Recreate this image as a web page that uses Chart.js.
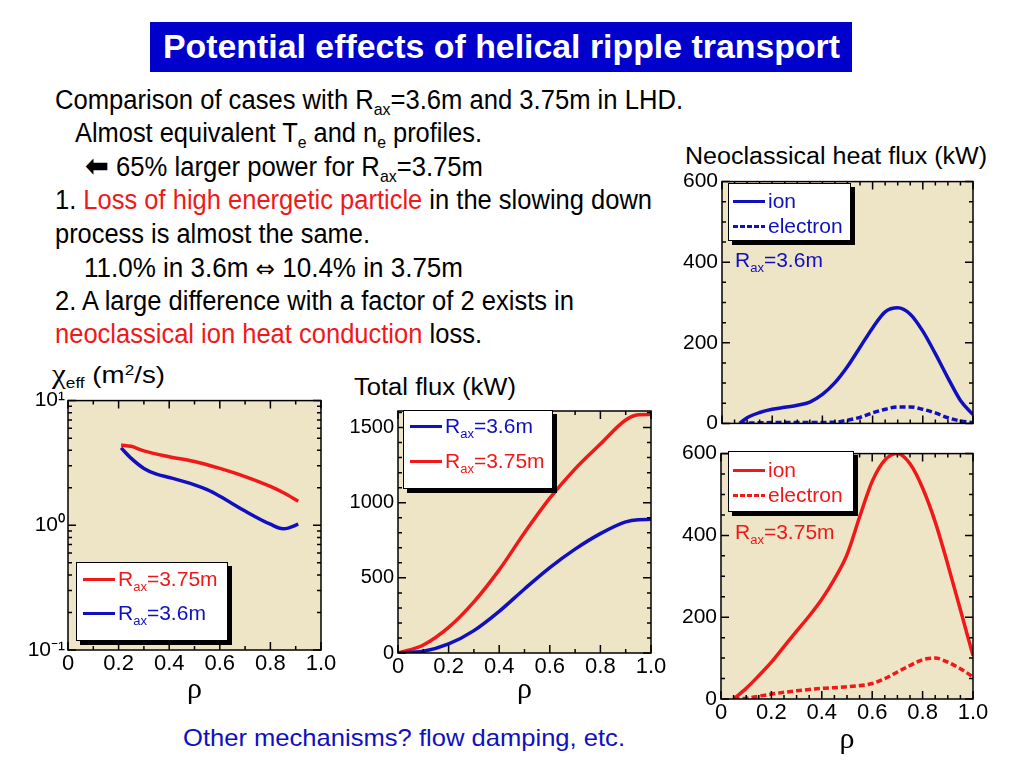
<!DOCTYPE html>
<html>
<head>
<meta charset="utf-8">
<script src="https://cdn.jsdelivr.net/npm/chart.js@4.4.1/dist/chart.umd.min.js"></script>
<style>
  body { margin: 0; background: #fff; font-family: "Liberation Sans", Arial, sans-serif; }
  #slide { position: relative; width: 1024px; height: 768px; overflow: hidden; background: #fff; }
  .t { position: absolute; white-space: nowrap; transform-origin: left center; }
  .body { font-size: 27px; line-height: 32px; color: #000; }
  .red { color: #f01818; }
  sub { font-size: 0.62em; vertical-align: -0.35em; line-height: 0; }
  sup { font-size: 0.62em; vertical-align: 0.55em; line-height: 0; }
  canvas { position: absolute; }
  .legend { position: absolute; background: #fff; border: 1.5px solid #000; box-shadow: 4px 4px 0 #000; }
  .row { position: absolute; white-space: nowrap; font-size: 21px; line-height: 24px; }
  .sample { display: inline-block; width: 32px; height: 3px; vertical-align: middle; margin-right: 3px; position: relative; top: -1px; }
</style>
</head>
<body>
<div id="slide">
  <div class="t" style="left:150px;top:22px;width:702px;height:50px;background:#0000cc;"></div>
  <div class="t fit" data-w="677" style="left:163px;top:27px;font-size:33px;line-height:40px;font-weight:bold;color:#fff;">Potential effects of helical ripple transport</div>

  <div class="t body fit" data-w="628" style="left:55px;top:84px;">Comparison of cases with R<sub>ax</sub>=3.6m and 3.75m in LHD.</div>
  <div class="t body fit" data-w="407" style="left:75px;top:117px;">Almost equivalent T<sub>e</sub> and n<sub>e</sub> profiles.</div>
  <div class="t body fit" data-w="398" style="left:85px;top:150px;"><span style="font-family:'DejaVu Sans';font-weight:bold;font-size:30px;">⬅</span> 65% larger power for R<sub>ax</sub>=3.75m</div>
  <div class="t body fit" data-w="597" style="left:55px;top:184px;">1. <span class="red">Loss of high energetic particle</span> in the slowing down</div>
  <div class="t body fit" data-w="315" style="left:55px;top:218px;">process is almost the same.</div>
  <div class="t body fit" data-w="379" style="left:84px;top:252px;">11.0% in 3.6m <span style="font-family:'DejaVu Sans';font-size:24px;">⇔</span> 10.4% in 3.75m</div>
  <div class="t body fit" data-w="519" style="left:55px;top:285px;">2. A large difference with a factor of 2 exists in</div>
  <div class="t body fit" data-w="427" style="left:55px;top:318px;"><span class="red">neoclassical ion heat conduction</span> loss.</div>

  <div class="t fit" data-w="442" style="left:183px;top:724px;font-size:24px;line-height:28px;color:#1010c0;">Other mechanisms? flow damping, etc.</div>

  <div class="t fit" data-w="113" style="left:52px;top:360px;font-size:24px;line-height:28px;"><span style="font-family:'Liberation Serif';font-size:27px;">χ</span><sub>eff</sub> (m<sup>2</sup>/s)</div>
  <div class="t fit" data-w="162" style="left:354px;top:374px;font-size:23px;line-height:27px;">Total flux (kW)</div>
  <div class="t fit" data-w="302" style="left:685px;top:143px;font-size:23px;line-height:27px;">Neoclassical heat flux (kW)</div>

  <canvas id="chiChart" width="340" height="325" style="left:0px;top:385px;"></canvas>
  <canvas id="fluxChart" width="330" height="315" style="left:340px;top:395px;"></canvas>
  <canvas id="neo36Chart" width="354" height="275" style="left:670px;top:165px;"></canvas>
  <canvas id="neo375Chart" width="354" height="323" style="left:670px;top:437px;"></canvas>

  <div class="legend" style="left:76px;top:562px;width:150px;height:77px;">
    <div class="row" style="left:6px;top:4px;color:#f01818;"><span class="sample" style="background:#f01818;"></span>R<sub>ax</sub>=3.75m</div>
    <div class="row" style="left:6px;top:38px;color:#1010c0;"><span class="sample" style="background:#1010c0;"></span>R<sub>ax</sub>=3.6m</div>
  </div>
  <div class="legend" style="left:403px;top:410px;width:148px;height:77px;">
    <div class="row" style="left:6px;top:3px;color:#1010c0;"><span class="sample" style="background:#1010c0;"></span>R<sub>ax</sub>=3.6m</div>
    <div class="row" style="left:6px;top:38px;color:#f01818;"><span class="sample" style="background:#f01818;"></span>R<sub>ax</sub>=3.75m</div>
  </div>
  <div class="legend" style="left:728px;top:183px;width:121px;height:56px;">
    <div class="row" style="left:4px;top:5px;color:#1010c0;"><span class="sample" style="background:#1010c0;"></span>ion</div>
    <div class="row" style="left:4px;top:30px;color:#1010c0;"><span class="sample" style="background:repeating-linear-gradient(to right,#1010c0 0 5px,transparent 5px 7px);"></span>electron</div>
  </div>
  <div class="t" style="left:735px;top:248px;font-size:21px;line-height:24px;color:#1010c0;">R<sub>ax</sub>=3.6m</div>
  <div class="legend" style="left:728px;top:451px;width:124px;height:59px;">
    <div class="row" style="left:4px;top:6px;color:#f01818;"><span class="sample" style="background:#f01818;"></span>ion</div>
    <div class="row" style="left:4px;top:31px;color:#f01818;"><span class="sample" style="background:repeating-linear-gradient(to right,#f01818 0 5px,transparent 5px 7px);"></span>electron</div>
  </div>
  <div class="t" style="left:735px;top:520px;font-size:21px;line-height:24px;color:#f01818;">R<sub>ax</sub>=3.75m</div>
</div>

<script>
// chi_eff (m2/s), log axis
const chiRho375 = [0.21, 0.25, 0.3, 0.4, 0.5, 0.6, 0.7, 0.8, 0.85, 0.91];
const chi375 = [4.4, 4.3, 3.95, 3.55, 3.25, 2.86, 2.46, 2.05, 1.83, 1.56];
const chiRho36 = [0.21, 0.25, 0.3, 0.35, 0.4, 0.5, 0.55, 0.6, 0.7, 0.8, 0.85, 0.87, 0.91];
const chi36 = [4.18, 3.44, 2.86, 2.57, 2.42, 2.11, 1.93, 1.71, 1.30, 1.02, 0.94, 0.95, 1.02];
const chiTicks = [0.1, 1, 10];
const chiTickLabels = ['10⁻¹', '10⁰', '10¹'];

// total flux (kW)
const fluxRho = [0, 0.1, 0.2, 0.3, 0.4, 0.5, 0.6, 0.7, 0.8, 0.9, 0.95, 1.0];
const flux375 = [0, 53, 170, 340, 553, 800, 1030, 1225, 1390, 1550, 1585, 1587];
const flux36 = [0, 11, 60, 149, 277, 426, 568, 691, 794, 872, 887, 889];
const fluxTicks = [0, 500, 1000, 1500];

// neoclassical heat flux (kW), Rax=3.6m
const ionRho36 = [0.07, 0.1, 0.15, 0.2, 0.25, 0.3, 0.35, 0.4, 0.45, 0.5, 0.55, 0.6, 0.65, 0.7, 0.75, 0.8, 0.85, 0.9, 0.95, 1.0];
const ion36 = [0, 14, 27, 35, 40, 45, 53, 72, 101, 141, 189, 237, 277, 287, 271, 229, 173, 113, 57, 22];
const elecRho36 = [0.07, 0.2, 0.3, 0.45, 0.5, 0.55, 0.6, 0.65, 0.7, 0.75, 0.8, 0.85, 0.9, 0.95, 1.0];
const elec36 = [0, 2, 2, 3, 8, 15, 26, 35, 41, 41, 35, 26, 14, 6, 2];

// neoclassical heat flux (kW), Rax=3.75m
const ionRho375 = [0.05, 0.1, 0.15, 0.2, 0.25, 0.3, 0.35, 0.4, 0.45, 0.5, 0.55, 0.6, 0.65, 0.7, 0.75, 0.8, 0.85, 0.9, 0.95, 1.0];
const ion375 = [0, 26, 57, 90, 128, 166, 203, 244, 293, 353, 445, 532, 584, 600, 575, 516, 433, 329, 218, 106];
const elecRho375 = [0.05, 0.1, 0.2, 0.3, 0.4, 0.5, 0.6, 0.65, 0.7, 0.75, 0.8, 0.85, 0.9, 0.95, 1.0];
const elec375 = [0, 2, 12, 20, 26, 30, 38, 50, 66, 82, 96, 100, 90, 74, 54];
const neoTicks = [0, 200, 400, 600];

const rhoTicks = [0, 0.2, 0.4, 0.6, 0.8, 1.0];

const BLUE = '#1010c0';
const RED = '#f01818';

// stretch text lines to the measured widths of the slide
document.querySelectorAll('.fit').forEach(function (el) {
    const w = el.getBoundingClientRect().width;
    el.style.transform = 'scaleX(' + (parseFloat(el.dataset.w) / w) + ')';
});

function pts(xs, ys) {
    return xs.map((x, i) => ({ x: x, y: ys[i] }));
}

// beige plot area, black frame, inward ticks on all four sides
const frameTicks = {
    id: 'frameTicks',
    beforeDraw(chart) {
        const a = chart.chartArea, ctx = chart.ctx;
        ctx.save();
        ctx.fillStyle = '#eee5c6';
        ctx.fillRect(a.left, a.top, a.right - a.left, a.bottom - a.top);
        ctx.restore();
    },
    afterDraw(chart, args, opts) {
        const a = chart.chartArea, ctx = chart.ctx;
        const sx = chart.scales.x, sy = chart.scales.y;
        ctx.save();
        ctx.strokeStyle = '#000';
        ctx.lineWidth = 1.5;
        ctx.strokeRect(a.left, a.top, a.right - a.left, a.bottom - a.top);
        ctx.beginPath();
        const xs = steps(sx.min, sx.max, opts.xMajor, opts.xMinor);
        xs.forEach(function (m) {
            const p = sx.getPixelForValue(m.v), len = m.big ? 8 : 4;
            ctx.moveTo(p, a.bottom); ctx.lineTo(p, a.bottom - len);
            ctx.moveTo(p, a.top); ctx.lineTo(p, a.top + len);
        });
        let ys;
        if (opts.log) {
            ys = [];
            for (let d = sy.min; d < sy.max * 1.001; d *= 10) {
                for (let k = 1; k <= 9; k++) {
                    if (d * k <= sy.max * 1.001) ys.push({ v: d * k, big: k === 1 });
                }
            }
        } else {
            ys = steps(sy.min, sy.max, opts.yMajor, opts.yMinor);
        }
        ys.forEach(function (m) {
            const p = sy.getPixelForValue(m.v), len = m.big ? 8 : 4;
            ctx.moveTo(a.left, p); ctx.lineTo(a.left + len, p);
            ctx.moveTo(a.right, p); ctx.lineTo(a.right - len, p);
        });
        ctx.stroke();
        ctx.restore();
    }
};

function steps(min, max, major, minor) {
    const out = [];
    const n = Math.floor((max - min) / minor + 1e-6);
    for (let i = 0; i <= n; i++) {
        const v = min + i * minor;
        const r = v / major;
        out.push({ v: v, big: Math.abs(r - Math.round(r)) < 1e-6 });
    }
    return out;
}

function xAxis(h, showLabels) {
    return {
        type: 'linear', min: 0, max: 1,
        grid: { display: false, drawTicks: false },
        border: { display: false },
        afterBuildTicks: s => { s.ticks = rhoTicks.map(v => ({ value: v })); },
        afterFit: s => { s.height = h; },
        ticks: {
            display: showLabels, autoSkip: false, maxRotation: 0, padding: 1,
            color: '#000', font: { family: 'Liberation Sans', size: 22 },
            callback: v => (v === 0 ? '0' : v.toFixed(1))
        },
        title: {
            display: showLabels, text: 'ρ', color: '#000', padding: { top: 0, bottom: 2 },
            font: { family: 'Liberation Serif', size: 30 }
        }
    };
}

function yAxis(w, size, extra) {
    return Object.assign({
        grid: { display: false, drawTicks: false },
        border: { display: false },
        afterFit: s => { s.width = w; }
    }, extra, {
        ticks: Object.assign({
            padding: 4, color: '#000',
            font: { family: 'Liberation Sans', size: size },
            callback: v => String(v)
        }, extra.ticks || {})
    });
}

function lineSet(data, color, dashed) {
    return {
        data: data,
        borderColor: color,
        borderWidth: 3.5,
        borderDash: dashed ? [6, 3] : [],
        pointRadius: 0,
        fill: false,
        cubicInterpolationMode: 'monotone'
    };
}

function makeChart(id, datasets, pad, scales, ticks) {
    return new Chart(document.getElementById(id), {
        type: 'line',
        data: { datasets: datasets },
        options: {
            responsive: false,
            animation: false,
            layout: { padding: pad },
            plugins: { legend: { display: false }, tooltip: { enabled: false }, frameTicks: ticks },
            scales: scales
        },
        plugins: [frameTicks]
    });
}

makeChart('chiChart',
    [lineSet(pts(chiRho375, chi375), RED), lineSet(pts(chiRho36, chi36), BLUE)],
    { left: 0, right: 19, top: 13, bottom: 0 },
    {
        x: xAxis(60, true),
        y: yAxis(68, 21, {
            type: 'logarithmic', min: 0.1, max: 10,
            afterBuildTicks: s => { s.ticks = chiTicks.map(v => ({ value: v })); },
            ticks: { padding: 3, callback: v => chiTickLabels[chiTicks.indexOf(v)] }
        })
    },
    { xMajor: 0.2, xMinor: 0.1, log: true });

makeChart('fluxChart',
    [lineSet(pts(fluxRho, flux36), BLUE), lineSet(pts(fluxRho, flux375), RED)],
    { left: 0, right: 19, top: 7, bottom: 0 },
    {
        x: xAxis(57, true),
        y: yAxis(58, 20, {
            type: 'linear', min: 0, max: 1610,
            afterBuildTicks: s => { s.ticks = fluxTicks.map(v => ({ value: v })); }
        })
    },
    { xMajor: 0.2, xMinor: 0.1, yMajor: 500, yMinor: 100 });

makeChart('neo36Chart',
    [lineSet(pts(ionRho36, ion36), BLUE), lineSet(pts(elecRho36, elec36), BLUE, true)],
    { left: 0, right: 51, top: 12, bottom: 0 },
    {
        x: xAxis(13, false),
        y: yAxis(52, 21, {
            type: 'linear', min: 0, max: 600,
            afterBuildTicks: s => { s.ticks = neoTicks.map(v => ({ value: v })); }
        })
    },
    { xMajor: 0.2, xMinor: 0.05, yMajor: 200, yMinor: 50 });

makeChart('neo375Chart',
    [lineSet(pts(ionRho375, ion375), RED), lineSet(pts(elecRho375, elec375), RED, true)],
    { left: 0, right: 51, top: 11, bottom: 0 },
    {
        x: xAxis(61, true),
        y: yAxis(51, 21, {
            type: 'linear', min: 0, max: 600,
            afterBuildTicks: s => { s.ticks = neoTicks.map(v => ({ value: v })); }
        })
    },
    { xMajor: 0.2, xMinor: 0.05, yMajor: 200, yMinor: 50 });
</script>
</body>
</html>
